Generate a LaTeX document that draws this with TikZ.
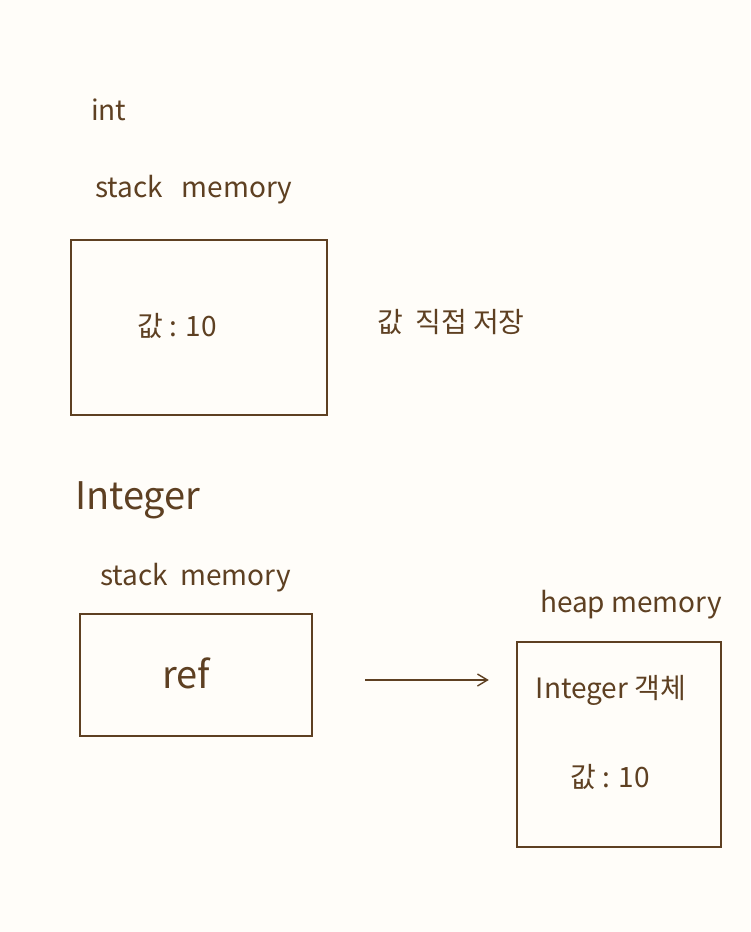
\documentclass[tikz,border=0pt]{standalone}
\usepackage{fontspec}
\setmainfont{Noto Sans CJK KR}
\usetikzlibrary{arrows.meta}
\definecolor{ink-brown}{HTML}{5E4022}
\definecolor{paper-bg}{HTML}{FFFDF9}

\begin{document}
\begin{tikzpicture}[x=0.5pt, y=-0.5pt,
        every node/.style={text=ink-brown, font=\fontsize{14}{16}\selectfont},
        membox/.style={draw=ink-brown, line width=1.2pt, inner sep=0pt}]
      \fill[paper-bg] (0,0) rectangle (750,932);
      % int: value kept on the stack
      \node[anchor=west] (INTLBL) at (84,110) {int};
      \node[anchor=west] (STKLBL1) at (88,190) {stack\ \ \ memory};
      \node[membox, minimum width=128pt, minimum height=87.5pt]
            (STK1) at (199,327.5) {};
      \node (VAL1) at (177,326) {값 : 10};
      \node[anchor=west] (NOTE) at (370,322) {값\ \ 직접\ 저장};
      % Integer: stack holds a ref to a heap object
      \node[anchor=west, font=\fontsize{19}{22}\selectfont] (INTEGERLBL) at (68,500) {Integer};
      \node[anchor=west] (STKLBL2) at (93,578) {stack\ \ memory};
      \node[membox, minimum width=116pt, minimum height=61pt]
            (STK2) at (196,675) {};
      \node[font=\fontsize{19}{22}\selectfont] (REF) at (186,673) {ref};
      \node[anchor=west] (HEAPLBL) at (533,605) {heap memory};
      \node[membox, minimum width=102pt, minimum height=102.5pt]
            (HEAP) at (619,744.5) {};
      \node (OBJ) at (611,690) {Integer 객체};
      \node (VAL2) at (610,777) {값 : 10};
      \draw[ink-brown, line width=0.7pt, -{Straight Barb[length=5pt, width=6pt]},
            shorten <=26pt, shorten >=13.5pt]
            ([yshift=-2.5pt]STK2.east) -- ([yshift=-2.5pt]STK2.east -| HEAP.west);
    \end{tikzpicture}
\end{document}
